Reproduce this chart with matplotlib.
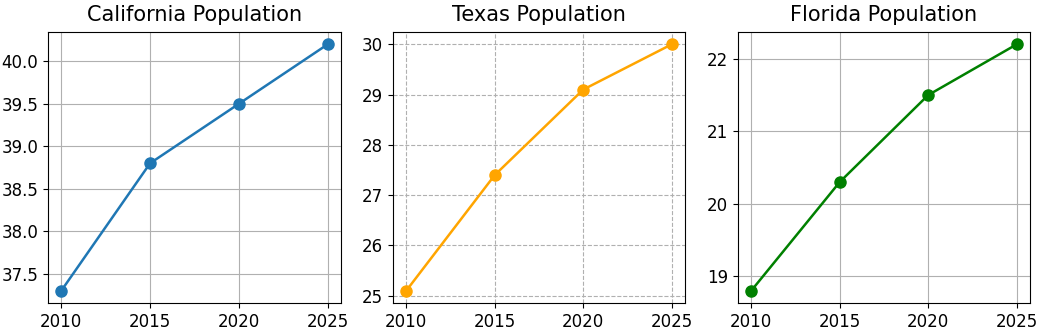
import matplotlib
matplotlib.use("Agg")
import matplotlib.pyplot as plt
from matplotlib.ticker import MultipleLocator

plt.rcParams["font.size"] = 12

years = [2010, 2015, 2020, 2025]
california = [37.3, 38.8, 39.5, 40.2]
texas = [25.1, 27.4, 29.1, 30.0]
florida = [18.8, 20.3, 21.5, 22.2]

titles = ["California Population", "Texas Population", "Florida Population"]
series = [california, texas, florida]
colors = ["#1f77b4", "orange", "green"]
grid_styles = ["-", "--", "-"]

W, H = 1044, 333
fig = plt.figure(figsize=(W / 100, H / 100), dpi=100)

# axes boxes in pixels: left, right, top, bottom
boxes = [(48, 341, 32, 303), (393, 685, 32, 303), (738, 1030, 32, 303)]

axes = []
for (l, r, t, b), title, vals, c, gs in zip(boxes, titles, series, colors, grid_styles):
    ax = fig.add_axes([l / W, 1 - b / H, (r - l) / W, (b - t) / H])
    ax.plot(years, vals, marker="o", color=c, linewidth=1.8, markersize=8)
    ax.set_title(title, fontsize=15, pad=8)
    ax.set_xticks(years)
    ax.grid(True, linestyle=gs)
    axes.append(ax)

axes[2].yaxis.set_major_locator(MultipleLocator(1))

fig.savefig("out.png", dpi=100)
